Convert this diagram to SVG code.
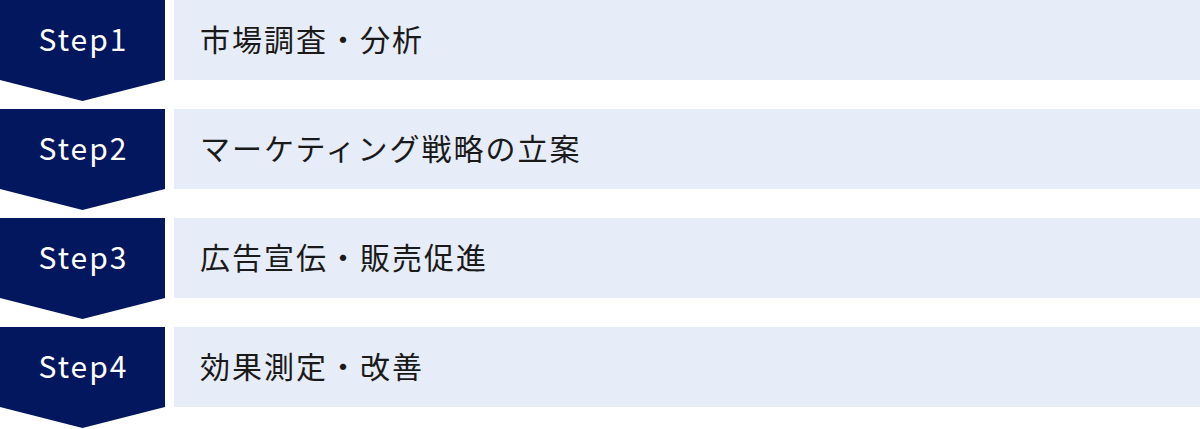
<svg xmlns="http://www.w3.org/2000/svg" width="1200" height="429" viewBox="0 0 1200 429">
<style>
.chev{fill:#03175F}
.bar{fill:#E6ECF8}
.step{font-family:"Noto Sans CJK JP","Noto Sans",sans-serif;font-size:30px;fill:#FFFFFF;letter-spacing:2px;text-anchor:middle}
.label{font-family:"Noto Sans CJK JP","Noto Sans",sans-serif;font-size:30px;fill:#1A1A1A;letter-spacing:2px}
</style>
<rect width="1200" height="429" fill="#FFFFFF"/>
<g id="step1">
<polygon class="chev" points="0,0 165,0 165,80 82.5,101 0,80"/>
<text class="step" x="83.5" y="51">Step1</text>
<rect class="bar" x="174" y="0" width="1026" height="80"/>
<text class="label" x="200" y="51">市場調査・分析</text>
</g>
<g id="step2">
<polygon class="chev" points="0,109 165,109 165,189 82.5,210 0,189"/>
<text class="step" x="83.5" y="160">Step2</text>
<rect class="bar" x="174" y="109" width="1026" height="80"/>
<text class="label" x="200" y="160">マーケティング戦略の立案</text>
</g>
<g id="step3">
<polygon class="chev" points="0,218 165,218 165,298 82.5,319 0,298"/>
<text class="step" x="83.5" y="269">Step3</text>
<rect class="bar" x="174" y="218" width="1026" height="80"/>
<text class="label" x="200" y="269">広告宣伝・販売促進</text>
</g>
<g id="step4">
<polygon class="chev" points="0,327 165,327 165,407 82.5,428 0,407"/>
<text class="step" x="83.5" y="378">Step4</text>
<rect class="bar" x="174" y="327" width="1026" height="80"/>
<text class="label" x="200" y="378">効果測定・改善</text>
</g>
<g id="connectors"/>
</svg>
